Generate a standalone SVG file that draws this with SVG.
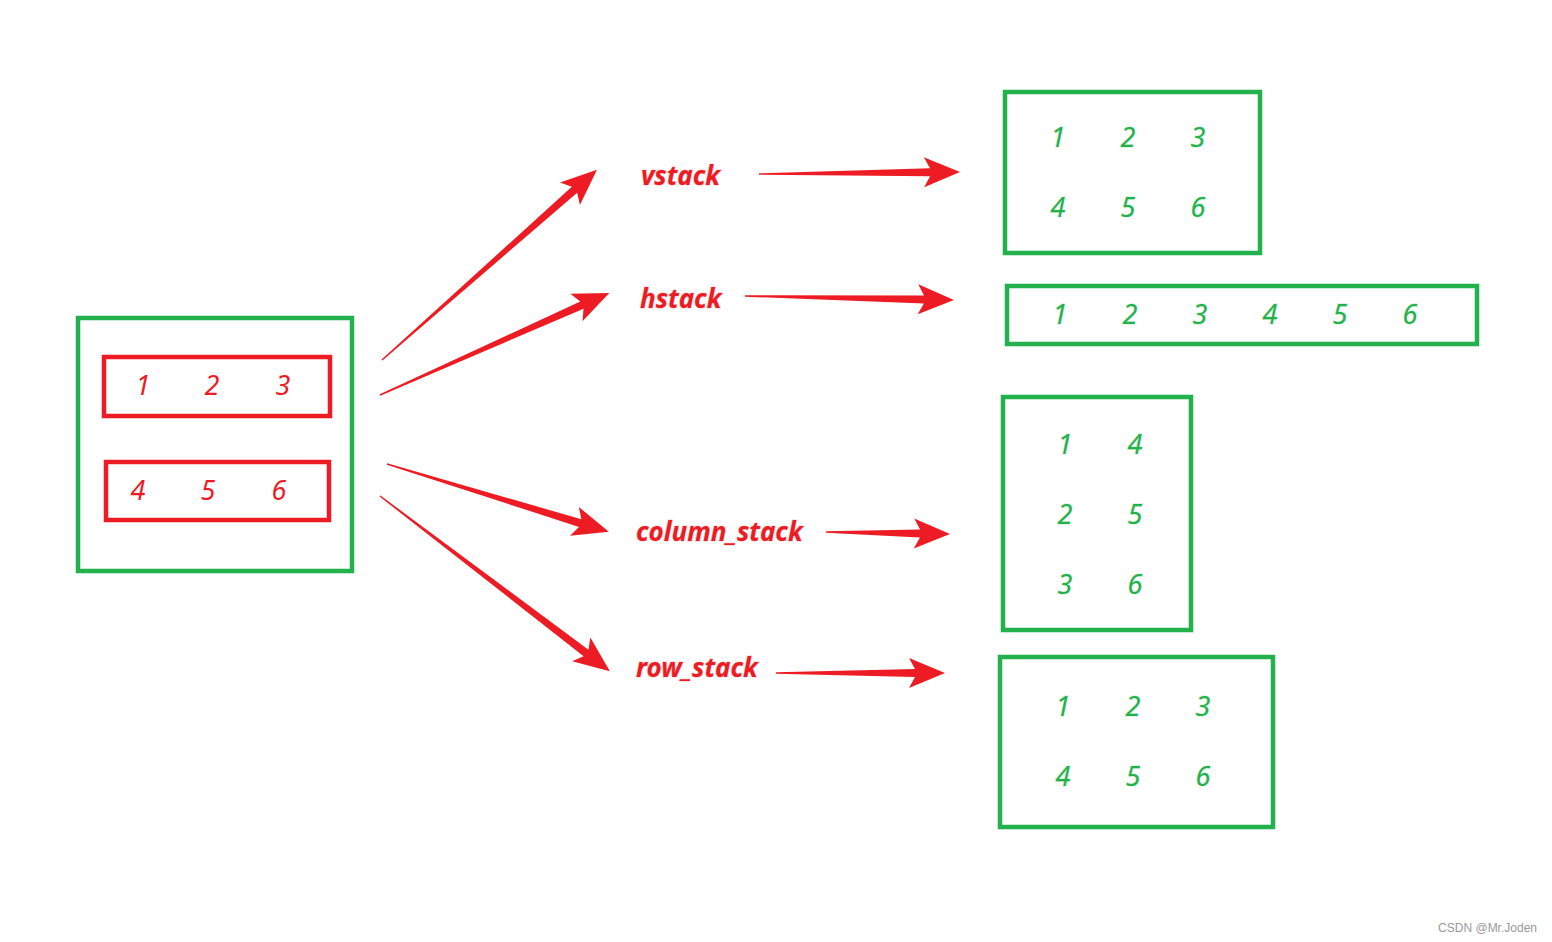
<svg xmlns="http://www.w3.org/2000/svg" width="1552" height="942" viewBox="0 0 1552 942">
<style>
.g{fill:none;stroke:#22b14c;stroke-width:4.5}
.r{fill:none;stroke:#ed1c24;stroke-width:4.5}
.lbl{font-family:"Noto Sans","Liberation Sans",sans-serif;font-weight:bold;font-style:italic;font-size:26px;fill:#ed1c24;stroke:#f3d0d0;stroke-width:1;paint-order:stroke}
.nr{font-family:"Noto Sans","Liberation Sans",sans-serif;font-style:italic;font-size:27px;fill:#ed1c24;stroke:#fff;stroke-width:1.5;paint-order:stroke;text-anchor:middle}
.ng{font-family:"Noto Sans","Liberation Sans",sans-serif;font-style:italic;font-size:27px;fill:#22b14c;stroke:#e0f0e0;stroke-width:1.5;paint-order:stroke;text-anchor:middle}
.a{fill:#ed1c24}
.wm{font-family:"Liberation Sans",sans-serif;font-size:12px;fill:#999;text-anchor:end}
</style>
<rect width="1552" height="942" fill="#fff"/>
<g id="source">
<rect class="g" x="78" y="318" width="274" height="253"/>
<rect class="r" x="104" y="357" width="226" height="59"/>
<rect class="r" x="106" y="462" width="223" height="58"/>
<text class="nr" x="143" y="395">1</text><text class="nr" x="212" y="395">2</text><text class="nr" x="283" y="395">3</text>
<text class="nr" x="138" y="500">4</text><text class="nr" x="208" y="500">5</text><text class="nr" x="279" y="500">6</text>
</g>
<g id="labels">
<text class="lbl" x="641" y="185">vstack</text>
<text class="lbl" x="640" y="308">hstack</text>
<text class="lbl" x="636" y="541">column_stack</text>
<text class="lbl" x="636" y="677">row_stack</text>
</g>
<g id="vstack">
<rect class="g" x="1005" y="92" width="255" height="161"/>
<text class="ng" x="1058" y="147">1</text><text class="ng" x="1128" y="147">2</text><text class="ng" x="1198" y="147">3</text>
<text class="ng" x="1058" y="217">4</text><text class="ng" x="1128" y="217">5</text><text class="ng" x="1198" y="217">6</text>
</g>
<g id="hstack">
<rect class="g" x="1007" y="286" width="470" height="58"/>
<text class="ng" x="1060" y="324">1</text><text class="ng" x="1130" y="324">2</text><text class="ng" x="1200" y="324">3</text>
<text class="ng" x="1270" y="324">4</text><text class="ng" x="1340" y="324">5</text><text class="ng" x="1410" y="324">6</text>
</g>
<g id="column_stack">
<rect class="g" x="1003" y="397" width="188" height="233"/>
<text class="ng" x="1065" y="454">1</text><text class="ng" x="1135" y="454">4</text>
<text class="ng" x="1065" y="524">2</text><text class="ng" x="1135" y="524">5</text>
<text class="ng" x="1065" y="594">3</text><text class="ng" x="1135" y="594">6</text>
</g>
<g id="row_stack">
<rect class="g" x="1000" y="657" width="273" height="170"/>
<text class="ng" x="1063" y="716">1</text><text class="ng" x="1133" y="716">2</text><text class="ng" x="1203" y="716">3</text>
<text class="ng" x="1063" y="786">4</text><text class="ng" x="1133" y="786">5</text><text class="ng" x="1203" y="786">6</text>
</g>
<g id="connectors" class="a">
<polygon transform="translate(382,360) rotate(-41.5)" points="0,-0.7 257,-4 251,-15 287,0 251,15 257,4 0,0.7"/>
<polygon transform="translate(380,395) rotate(-24)" points="0,-0.7 221,-4 215,-15 251,0 215,15 221,4 0,0.7"/>
<polygon transform="translate(387,464) rotate(17)" points="0,-0.7 202,-4 196,-15 232,0 196,15 202,4 0,0.7"/>
<polygon transform="translate(380,496) rotate(37.3)" points="0,-0.7 259,-4 253,-15 289,0 253,15 259,4 0,0.7"/>
<polygon transform="translate(759,174) rotate(-0.6)" points="0,-0.7 171,-4 165,-15 201,0 165,15 171,4 0,0.7"/>
<polygon transform="translate(745,296) rotate(1.1)" points="0,-0.7 179,-4 173,-15 209,0 173,15 179,4 0,0.7"/>
<polygon transform="translate(826,532) rotate(0.9)" points="0,-0.7 94,-4 88,-15 124,0 88,15 94,4 0,0.7"/>
<polygon transform="translate(776,673) rotate(0)" points="0,-0.7 139,-4 133,-15 169,0 133,15 139,4 0,0.7"/>
</g>
<text class="wm" x="1537" y="932">CSDN @Mr.Joden</text>
</svg>
